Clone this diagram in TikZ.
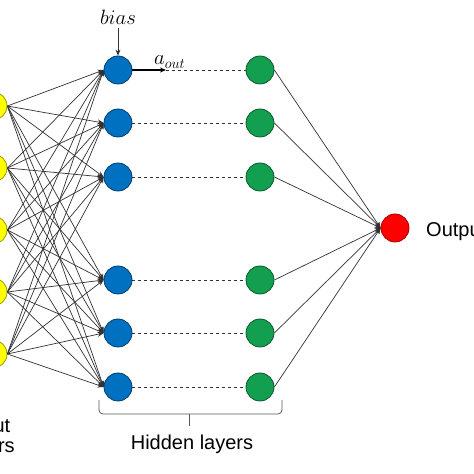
\documentclass[tikz,border=0pt]{standalone}
\usepackage{fontspec}
\setmainfont{Liberation Sans}
\usetikzlibrary{arrows.meta}
\definecolor{inyellow}{RGB}{255,255,0}
\definecolor{hidblue}{RGB}{0,112,192}
\definecolor{hidgreen}{RGB}{18,160,80}
\definecolor{outred}{RGB}{255,0,0}
\definecolor{wire}{RGB}{50,50,50}
\tikzset{
  neuron/.style={circle,minimum size=28pt,inner sep=0pt,line width=0.8pt},
  inneuron/.style={neuron,fill=inyellow,draw=inyellow!60!black},
  bluneuron/.style={neuron,fill=hidblue,draw=hidblue!55!black},
  grnneuron/.style={neuron,fill=hidgreen,draw=hidgreen!55!black},
  redneuron/.style={neuron,fill=outred,draw=outred!65!black},
  wire/.style={draw=wire,line width=0.7pt},
  labeltext/.style={font=\fontsize{20}{20}\selectfont,inner sep=0pt},
  mathtext/.style={font=\fontsize{20}{20}\selectfont,inner sep=0pt}
}
\begin{document}
\begin{tikzpicture}[x=1pt,y=1pt,>={Stealth[length=6pt,width=5pt]}]
  \clip (0,0) rectangle (474,474);

  % input layer
  \node[inneuron] (in1) at (-7,368) {};
  \node[inneuron] (in2) at (-7,306) {};
  \node[inneuron] (in3) at (-7,244) {};
  \node[inneuron] (in4) at (-7,182) {};
  \node[inneuron] (in5) at (-7,120) {};

  % hidden layers
  \node[bluneuron] (h1) at (118,404) {};
  \node[bluneuron] (h2) at (118,351) {};
  \node[bluneuron] (h3) at (118,297) {};
  \node[bluneuron] (h4) at (118,194) {};
  \node[bluneuron] (h5) at (118,141) {};
  \node[bluneuron] (h6) at (118,87) {};
  \node[grnneuron] (g1) at (260,404) {};
  \node[grnneuron] (g2) at (260,351) {};
  \node[grnneuron] (g3) at (260,297) {};
  \node[grnneuron] (g4) at (260,194) {};
  \node[grnneuron] (g5) at (260,141) {};
  \node[grnneuron] (g6) at (260,87) {};

  % output
  \node[redneuron] (out) at (395,246) {};
  \node[labeltext,anchor=base west] (outlbl) at (426,237) {Output};

  % weights
  \foreach \i in {1,...,5}
    \foreach \j in {1,...,6}
      \draw[wire,->] (in\i.east) -- (h\j.west);
  \foreach \j in {1,...,6}
    \draw[wire,->] (g\j.east) -- (out.west);

  % bias and activation
  \node[mathtext,anchor=base] (bias) at (118,449) {$bias$};
  \draw[wire,->] ([yshift=-3pt]bias.south) -- (h1.north);
  \coordinate (aend) at (166,404);
  \node[mathtext,anchor=base west] (aout) at (154,409) {$a_{out}$};
  \draw[->,line width=1.6pt] (h1.east) -- (aend);
  \draw[wire,dashed] (aend) -- (g1.west);
  \foreach \j in {2,...,6}
    \draw[wire,dashed] (h\j.east) -- (g\j.west);

  % brace and layer names
  \coordinate (brl) at (99,74);
  \coordinate (brm) at (189,60);
  \coordinate (brr) at (282,74);
  \draw[draw=black!65,line width=0.8pt,rounded corners=4pt]
    (brl) -- (99,60) -- (282,60) -- (brr);
  \draw[draw=black!65,line width=0.8pt] (brm) -- (189,48);
  \node[labeltext,anchor=base] (hidlbl) at (192,24) {Hidden layers};
  \node[labeltext,align=center,anchor=base] (inlbl) at (-12,21) {Input\\layers};
\end{tikzpicture}
\end{document}
